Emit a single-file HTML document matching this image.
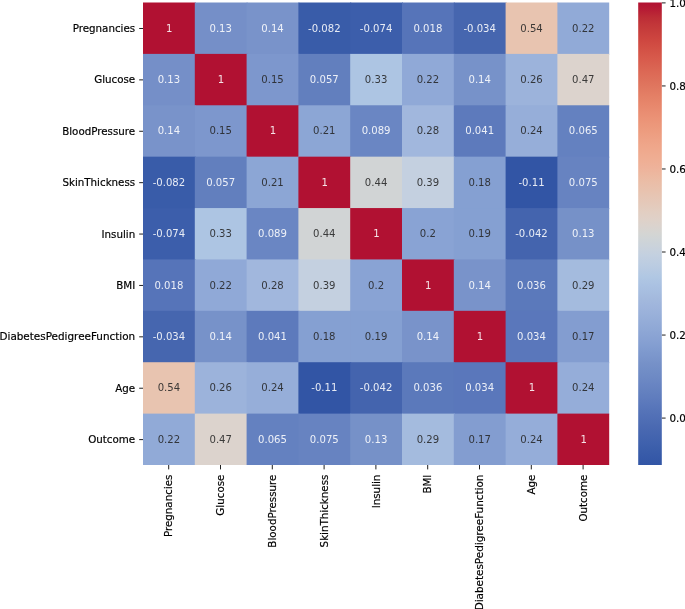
<!DOCTYPE html>
<html><head><meta charset="utf-8"><title>Correlation heatmap</title>
<style>
html,body{margin:0;padding:0;background:#fff;}
body{width:685px;height:609px;overflow:hidden;}
svg{display:block;}
text{font-family:"DejaVu Sans","Liberation Sans",sans-serif;font-size:10.3px;}
.lab text{fill:#000;stroke:#000;stroke-width:0.18px;}
.lab,.ann{filter:url(#soft);}
.xl text{font-size:10.3px;}
.ann text{font-size:10.1px;fill-opacity:0.88;}
</style></head><body>
<svg width="685" height="609" viewBox="0 0 685 609">
<defs><linearGradient id="cb" x1="0" y1="1" x2="0" y2="0">
<stop offset="0.0000" stop-color="#3255a5"/>
<stop offset="0.0156" stop-color="#3659a8"/>
<stop offset="0.0312" stop-color="#3a5daa"/>
<stop offset="0.0469" stop-color="#3f61ad"/>
<stop offset="0.0625" stop-color="#4465af"/>
<stop offset="0.0781" stop-color="#4968b1"/>
<stop offset="0.0938" stop-color="#4e6db4"/>
<stop offset="0.1094" stop-color="#5371b7"/>
<stop offset="0.1250" stop-color="#5876ba"/>
<stop offset="0.1406" stop-color="#5e7bbd"/>
<stop offset="0.1562" stop-color="#6380bf"/>
<stop offset="0.1719" stop-color="#6884c2"/>
<stop offset="0.1875" stop-color="#6d89c4"/>
<stop offset="0.2031" stop-color="#718dc6"/>
<stop offset="0.2188" stop-color="#7691c8"/>
<stop offset="0.2344" stop-color="#7b96cc"/>
<stop offset="0.2500" stop-color="#809bcf"/>
<stop offset="0.2656" stop-color="#86a0d2"/>
<stop offset="0.2812" stop-color="#8ba4d4"/>
<stop offset="0.2969" stop-color="#90a9d6"/>
<stop offset="0.3125" stop-color="#95add8"/>
<stop offset="0.3281" stop-color="#9ab1da"/>
<stop offset="0.3438" stop-color="#9fb5dc"/>
<stop offset="0.3594" stop-color="#a3b9dd"/>
<stop offset="0.3750" stop-color="#a7bee0"/>
<stop offset="0.3906" stop-color="#abc2e2"/>
<stop offset="0.4062" stop-color="#b0c7e3"/>
<stop offset="0.4219" stop-color="#b7cae2"/>
<stop offset="0.4375" stop-color="#bdcde1"/>
<stop offset="0.4531" stop-color="#c3d0e0"/>
<stop offset="0.4688" stop-color="#c9d2dc"/>
<stop offset="0.4844" stop-color="#ced4d8"/>
<stop offset="0.5000" stop-color="#d4d5d3"/>
<stop offset="0.5156" stop-color="#dad3ce"/>
<stop offset="0.5312" stop-color="#dfd1c8"/>
<stop offset="0.5469" stop-color="#e2cec2"/>
<stop offset="0.5625" stop-color="#e4cabb"/>
<stop offset="0.5781" stop-color="#e6c6b5"/>
<stop offset="0.5938" stop-color="#e8c2ae"/>
<stop offset="0.6094" stop-color="#eabea8"/>
<stop offset="0.6250" stop-color="#ecb9a1"/>
<stop offset="0.6406" stop-color="#eeb39b"/>
<stop offset="0.6562" stop-color="#efaf95"/>
<stop offset="0.6719" stop-color="#efab90"/>
<stop offset="0.6875" stop-color="#efa78b"/>
<stop offset="0.7031" stop-color="#eea286"/>
<stop offset="0.7188" stop-color="#ed9d80"/>
<stop offset="0.7344" stop-color="#ec987b"/>
<stop offset="0.7500" stop-color="#eb9276"/>
<stop offset="0.7656" stop-color="#e98c71"/>
<stop offset="0.7812" stop-color="#e7866b"/>
<stop offset="0.7969" stop-color="#e48066"/>
<stop offset="0.8125" stop-color="#e17961"/>
<stop offset="0.8281" stop-color="#de725c"/>
<stop offset="0.8438" stop-color="#dd6b57"/>
<stop offset="0.8594" stop-color="#da6452"/>
<stop offset="0.8750" stop-color="#d85c4d"/>
<stop offset="0.8906" stop-color="#d55548"/>
<stop offset="0.9062" stop-color="#d14d43"/>
<stop offset="0.9219" stop-color="#cd453f"/>
<stop offset="0.9375" stop-color="#c73e3c"/>
<stop offset="0.9531" stop-color="#c23639"/>
<stop offset="0.9688" stop-color="#bc2c36"/>
<stop offset="0.9844" stop-color="#b61c34"/>
<stop offset="1.0000" stop-color="#b11132"/>
</linearGradient><filter id="soft" x="-5%" y="-5%" width="110%" height="110%"><feGaussianBlur stdDeviation="0.32"/></filter></defs>
<rect x="0" y="0" width="685" height="609" fill="#ffffff"/>
<g>
<rect x="143.00" y="2.50" width="52.80" height="52.39" fill="#b11132"/>
<rect x="194.80" y="2.50" width="52.80" height="52.39" fill="#758fc8"/>
<rect x="246.60" y="2.50" width="52.80" height="52.39" fill="#7993ca"/>
<rect x="298.40" y="2.50" width="52.80" height="52.39" fill="#395ca9"/>
<rect x="350.20" y="2.50" width="52.80" height="52.39" fill="#3c5eab"/>
<rect x="402.00" y="2.50" width="52.80" height="52.39" fill="#5674b9"/>
<rect x="453.80" y="2.50" width="52.80" height="52.39" fill="#4666af"/>
<rect x="505.60" y="2.50" width="52.80" height="52.39" fill="#e8c4b0"/>
<rect x="557.40" y="2.50" width="51.80" height="52.39" fill="#91aad7"/>
<rect x="143.00" y="53.89" width="52.80" height="52.39" fill="#758fc8"/>
<rect x="194.80" y="53.89" width="52.80" height="52.39" fill="#b11132"/>
<rect x="246.60" y="53.89" width="52.80" height="52.39" fill="#7d97cd"/>
<rect x="298.40" y="53.89" width="52.80" height="52.39" fill="#627fbe"/>
<rect x="350.20" y="53.89" width="52.80" height="52.39" fill="#adc5e3"/>
<rect x="402.00" y="53.89" width="52.80" height="52.39" fill="#90a9d7"/>
<rect x="453.80" y="53.89" width="52.80" height="52.39" fill="#7792c9"/>
<rect x="505.60" y="53.89" width="52.80" height="52.39" fill="#9cb3db"/>
<rect x="557.40" y="53.89" width="51.80" height="52.39" fill="#dcd3cd"/>
<rect x="143.00" y="105.28" width="52.80" height="52.39" fill="#7993ca"/>
<rect x="194.80" y="105.28" width="52.80" height="52.39" fill="#7d97cd"/>
<rect x="246.60" y="105.28" width="52.80" height="52.39" fill="#b11132"/>
<rect x="298.40" y="105.28" width="52.80" height="52.39" fill="#8ca6d5"/>
<rect x="350.20" y="105.28" width="52.80" height="52.39" fill="#6a86c3"/>
<rect x="402.00" y="105.28" width="52.80" height="52.39" fill="#a1b7dd"/>
<rect x="453.80" y="105.28" width="52.80" height="52.39" fill="#5d7abc"/>
<rect x="505.60" y="105.28" width="52.80" height="52.39" fill="#96aed9"/>
<rect x="557.40" y="105.28" width="51.80" height="52.39" fill="#6481c0"/>
<rect x="143.00" y="156.67" width="52.80" height="52.39" fill="#395ca9"/>
<rect x="194.80" y="156.67" width="52.80" height="52.39" fill="#627fbe"/>
<rect x="246.60" y="156.67" width="52.80" height="52.39" fill="#8ca6d5"/>
<rect x="298.40" y="156.67" width="52.80" height="52.39" fill="#b11132"/>
<rect x="350.20" y="156.67" width="52.80" height="52.39" fill="#d1d4d5"/>
<rect x="402.00" y="156.67" width="52.80" height="52.39" fill="#c4d0e0"/>
<rect x="453.80" y="156.67" width="52.80" height="52.39" fill="#85a0d2"/>
<rect x="505.60" y="156.67" width="52.80" height="52.39" fill="#3255a5"/>
<rect x="557.40" y="156.67" width="51.80" height="52.39" fill="#6783c1"/>
<rect x="143.00" y="208.06" width="52.80" height="52.39" fill="#3c5eab"/>
<rect x="194.80" y="208.06" width="52.80" height="52.39" fill="#adc5e3"/>
<rect x="246.60" y="208.06" width="52.80" height="52.39" fill="#6a86c3"/>
<rect x="298.40" y="208.06" width="52.80" height="52.39" fill="#d1d4d5"/>
<rect x="350.20" y="208.06" width="52.80" height="52.39" fill="#b11132"/>
<rect x="402.00" y="208.06" width="52.80" height="52.39" fill="#89a3d4"/>
<rect x="453.80" y="208.06" width="52.80" height="52.39" fill="#85a0d2"/>
<rect x="505.60" y="208.06" width="52.80" height="52.39" fill="#4464ae"/>
<rect x="557.40" y="208.06" width="51.80" height="52.39" fill="#7691c8"/>
<rect x="143.00" y="259.44" width="52.80" height="52.39" fill="#5674b9"/>
<rect x="194.80" y="259.44" width="52.80" height="52.39" fill="#90a9d7"/>
<rect x="246.60" y="259.44" width="52.80" height="52.39" fill="#a1b7dd"/>
<rect x="298.40" y="259.44" width="52.80" height="52.39" fill="#c4d0e0"/>
<rect x="350.20" y="259.44" width="52.80" height="52.39" fill="#89a3d4"/>
<rect x="402.00" y="259.44" width="52.80" height="52.39" fill="#b11132"/>
<rect x="453.80" y="259.44" width="52.80" height="52.39" fill="#7993ca"/>
<rect x="505.60" y="259.44" width="52.80" height="52.39" fill="#5b79bb"/>
<rect x="557.40" y="259.44" width="51.80" height="52.39" fill="#a4bbde"/>
<rect x="143.00" y="310.83" width="52.80" height="52.39" fill="#4666af"/>
<rect x="194.80" y="310.83" width="52.80" height="52.39" fill="#7792c9"/>
<rect x="246.60" y="310.83" width="52.80" height="52.39" fill="#5d7abc"/>
<rect x="298.40" y="310.83" width="52.80" height="52.39" fill="#85a0d2"/>
<rect x="350.20" y="310.83" width="52.80" height="52.39" fill="#85a0d2"/>
<rect x="402.00" y="310.83" width="52.80" height="52.39" fill="#7993ca"/>
<rect x="453.80" y="310.83" width="52.80" height="52.39" fill="#b11132"/>
<rect x="505.60" y="310.83" width="52.80" height="52.39" fill="#5a77bb"/>
<rect x="557.40" y="310.83" width="51.80" height="52.39" fill="#839dd0"/>
<rect x="143.00" y="362.22" width="52.80" height="52.39" fill="#e8c4b0"/>
<rect x="194.80" y="362.22" width="52.80" height="52.39" fill="#9cb3db"/>
<rect x="246.60" y="362.22" width="52.80" height="52.39" fill="#96aed9"/>
<rect x="298.40" y="362.22" width="52.80" height="52.39" fill="#3255a5"/>
<rect x="350.20" y="362.22" width="52.80" height="52.39" fill="#4464ae"/>
<rect x="402.00" y="362.22" width="52.80" height="52.39" fill="#5b79bb"/>
<rect x="453.80" y="362.22" width="52.80" height="52.39" fill="#5a77bb"/>
<rect x="505.60" y="362.22" width="52.80" height="52.39" fill="#b11132"/>
<rect x="557.40" y="362.22" width="51.80" height="52.39" fill="#95add9"/>
<rect x="143.00" y="413.61" width="52.80" height="51.39" fill="#91aad7"/>
<rect x="194.80" y="413.61" width="52.80" height="51.39" fill="#dcd3cd"/>
<rect x="246.60" y="413.61" width="52.80" height="51.39" fill="#6481c0"/>
<rect x="298.40" y="413.61" width="52.80" height="51.39" fill="#6783c1"/>
<rect x="350.20" y="413.61" width="52.80" height="51.39" fill="#7691c8"/>
<rect x="402.00" y="413.61" width="52.80" height="51.39" fill="#a4bbde"/>
<rect x="453.80" y="413.61" width="52.80" height="51.39" fill="#839dd0"/>
<rect x="505.60" y="413.61" width="52.80" height="51.39" fill="#95add9"/>
<rect x="557.40" y="413.61" width="51.80" height="51.39" fill="#b11132"/>
</g>
<g class="ann" text-anchor="middle">
<text x="169.25" y="31.64" fill="#ffffff">1</text>
<text x="220.70" y="31.64" fill="#ffffff">0.13</text>
<text x="272.50" y="31.64" fill="#ffffff">0.14</text>
<text x="324.30" y="31.64" fill="#ffffff">-0.082</text>
<text x="376.10" y="31.64" fill="#ffffff">-0.074</text>
<text x="427.90" y="31.64" fill="#ffffff">0.018</text>
<text x="479.70" y="31.64" fill="#ffffff">-0.034</text>
<text x="531.50" y="31.64" fill="#262626">0.54</text>
<text x="583.30" y="31.64" fill="#262626">0.22</text>
<text x="168.90" y="83.03" fill="#ffffff">0.13</text>
<text x="221.05" y="83.03" fill="#ffffff">1</text>
<text x="272.50" y="83.03" fill="#262626">0.15</text>
<text x="324.30" y="83.03" fill="#ffffff">0.057</text>
<text x="376.10" y="83.03" fill="#262626">0.33</text>
<text x="427.90" y="83.03" fill="#262626">0.22</text>
<text x="479.70" y="83.03" fill="#ffffff">0.14</text>
<text x="531.50" y="83.03" fill="#262626">0.26</text>
<text x="583.30" y="83.03" fill="#262626">0.47</text>
<text x="168.90" y="134.42" fill="#ffffff">0.14</text>
<text x="220.70" y="134.42" fill="#262626">0.15</text>
<text x="272.85" y="134.42" fill="#ffffff">1</text>
<text x="324.30" y="134.42" fill="#262626">0.21</text>
<text x="376.10" y="134.42" fill="#ffffff">0.089</text>
<text x="427.90" y="134.42" fill="#262626">0.28</text>
<text x="479.70" y="134.42" fill="#ffffff">0.041</text>
<text x="531.50" y="134.42" fill="#262626">0.24</text>
<text x="583.30" y="134.42" fill="#ffffff">0.065</text>
<text x="168.90" y="185.81" fill="#ffffff">-0.082</text>
<text x="220.70" y="185.81" fill="#ffffff">0.057</text>
<text x="272.50" y="185.81" fill="#262626">0.21</text>
<text x="324.65" y="185.81" fill="#ffffff">1</text>
<text x="376.10" y="185.81" fill="#262626">0.44</text>
<text x="427.90" y="185.81" fill="#262626">0.39</text>
<text x="479.70" y="185.81" fill="#262626">0.18</text>
<text x="531.50" y="185.81" fill="#ffffff">-0.11</text>
<text x="583.30" y="185.81" fill="#ffffff">0.075</text>
<text x="168.90" y="237.20" fill="#ffffff">-0.074</text>
<text x="220.70" y="237.20" fill="#262626">0.33</text>
<text x="272.50" y="237.20" fill="#ffffff">0.089</text>
<text x="324.30" y="237.20" fill="#262626">0.44</text>
<text x="376.45" y="237.20" fill="#ffffff">1</text>
<text x="427.90" y="237.20" fill="#262626">0.2</text>
<text x="479.70" y="237.20" fill="#262626">0.19</text>
<text x="531.50" y="237.20" fill="#ffffff">-0.042</text>
<text x="583.30" y="237.20" fill="#ffffff">0.13</text>
<text x="168.90" y="288.59" fill="#ffffff">0.018</text>
<text x="220.70" y="288.59" fill="#262626">0.22</text>
<text x="272.50" y="288.59" fill="#262626">0.28</text>
<text x="324.30" y="288.59" fill="#262626">0.39</text>
<text x="376.10" y="288.59" fill="#262626">0.2</text>
<text x="428.25" y="288.59" fill="#ffffff">1</text>
<text x="479.70" y="288.59" fill="#ffffff">0.14</text>
<text x="531.50" y="288.59" fill="#ffffff">0.036</text>
<text x="583.30" y="288.59" fill="#262626">0.29</text>
<text x="168.90" y="339.98" fill="#ffffff">-0.034</text>
<text x="220.70" y="339.98" fill="#ffffff">0.14</text>
<text x="272.50" y="339.98" fill="#ffffff">0.041</text>
<text x="324.30" y="339.98" fill="#262626">0.18</text>
<text x="376.10" y="339.98" fill="#262626">0.19</text>
<text x="427.90" y="339.98" fill="#ffffff">0.14</text>
<text x="480.05" y="339.98" fill="#ffffff">1</text>
<text x="531.50" y="339.98" fill="#ffffff">0.034</text>
<text x="583.30" y="339.98" fill="#262626">0.17</text>
<text x="168.90" y="391.37" fill="#262626">0.54</text>
<text x="220.70" y="391.37" fill="#262626">0.26</text>
<text x="272.50" y="391.37" fill="#262626">0.24</text>
<text x="324.30" y="391.37" fill="#ffffff">-0.11</text>
<text x="376.10" y="391.37" fill="#ffffff">-0.042</text>
<text x="427.90" y="391.37" fill="#ffffff">0.036</text>
<text x="479.70" y="391.37" fill="#ffffff">0.034</text>
<text x="531.85" y="391.37" fill="#ffffff">1</text>
<text x="583.30" y="391.37" fill="#262626">0.24</text>
<text x="168.90" y="442.76" fill="#262626">0.22</text>
<text x="220.70" y="442.76" fill="#262626">0.47</text>
<text x="272.50" y="442.76" fill="#ffffff">0.065</text>
<text x="324.30" y="442.76" fill="#ffffff">0.075</text>
<text x="376.10" y="442.76" fill="#ffffff">0.13</text>
<text x="427.90" y="442.76" fill="#262626">0.29</text>
<text x="479.70" y="442.76" fill="#262626">0.17</text>
<text x="531.50" y="442.76" fill="#262626">0.24</text>
<text x="583.65" y="442.76" fill="#ffffff">1</text>
</g>
<g stroke="#141414" stroke-width="0.95" fill="none">
<path d="M139.20 28.49H143.00"/>
<path d="M168.70 465.00V469.40"/>
<path d="M139.20 79.88H143.00"/>
<path d="M220.50 465.00V469.40"/>
<path d="M139.20 131.27H143.00"/>
<path d="M272.30 465.00V469.40"/>
<path d="M139.20 182.66H143.00"/>
<path d="M324.10 465.00V469.40"/>
<path d="M139.20 234.05H143.00"/>
<path d="M375.90 465.00V469.40"/>
<path d="M139.20 285.44H143.00"/>
<path d="M427.70 465.00V469.40"/>
<path d="M139.20 336.83H143.00"/>
<path d="M479.50 465.00V469.40"/>
<path d="M139.20 388.22H143.00"/>
<path d="M531.30 465.00V469.40"/>
<path d="M139.20 439.61H143.00"/>
<path d="M583.10 465.00V469.40"/>
<path d="M661.80 418.08H665.60"/>
<path d="M661.80 335.05H665.60"/>
<path d="M661.80 252.01H665.60"/>
<path d="M661.80 168.97H665.60"/>
<path d="M661.80 85.94H665.60"/>
<path d="M661.80 2.90H665.60"/>
</g>
<g class="lab" text-anchor="end">
<text x="135.20" y="32.09">Pregnancies</text>
<text x="135.20" y="83.48">Glucose</text>
<text x="135.20" y="134.87">BloodPressure</text>
<text x="135.20" y="186.26">SkinThickness</text>
<text x="135.20" y="237.65">Insulin</text>
<text x="135.20" y="289.04">BMI</text>
<text x="135.20" y="340.43" style="font-size:10.42px">DiabetesPedigreeFunction</text>
<text x="135.20" y="391.82">Age</text>
<text x="135.20" y="443.21">Outcome</text>
</g>
<g class="lab xl" text-anchor="end">
<text transform="translate(172.30 474.60) rotate(-90)">Pregnancies</text>
<text transform="translate(224.10 474.60) rotate(-90)">Glucose</text>
<text transform="translate(275.90 474.60) rotate(-90)">BloodPressure</text>
<text transform="translate(327.70 474.60) rotate(-90)">SkinThickness</text>
<text transform="translate(379.50 474.60) rotate(-90)">Insulin</text>
<text transform="translate(431.30 474.60) rotate(-90)">BMI</text>
<text transform="translate(483.10 474.60) rotate(-90)" style="font-size:10.42px">DiabetesPedigreeFunction</text>
<text transform="translate(534.90 474.60) rotate(-90)">Age</text>
<text transform="translate(586.70 474.60) rotate(-90)">Outcome</text>
</g>
<rect x="638.20" y="2.50" width="23.60" height="462.50" fill="url(#cb)"/>
<g class="lab" text-anchor="start">
<text x="669.50" y="421.98">0.0</text>
<text x="669.50" y="338.95">0.2</text>
<text x="669.50" y="255.91">0.4</text>
<text x="669.50" y="172.87">0.6</text>
<text x="669.50" y="89.84">0.8</text>
<text x="669.50" y="6.80">1.0</text>
</g>
</svg>
</body></html>
